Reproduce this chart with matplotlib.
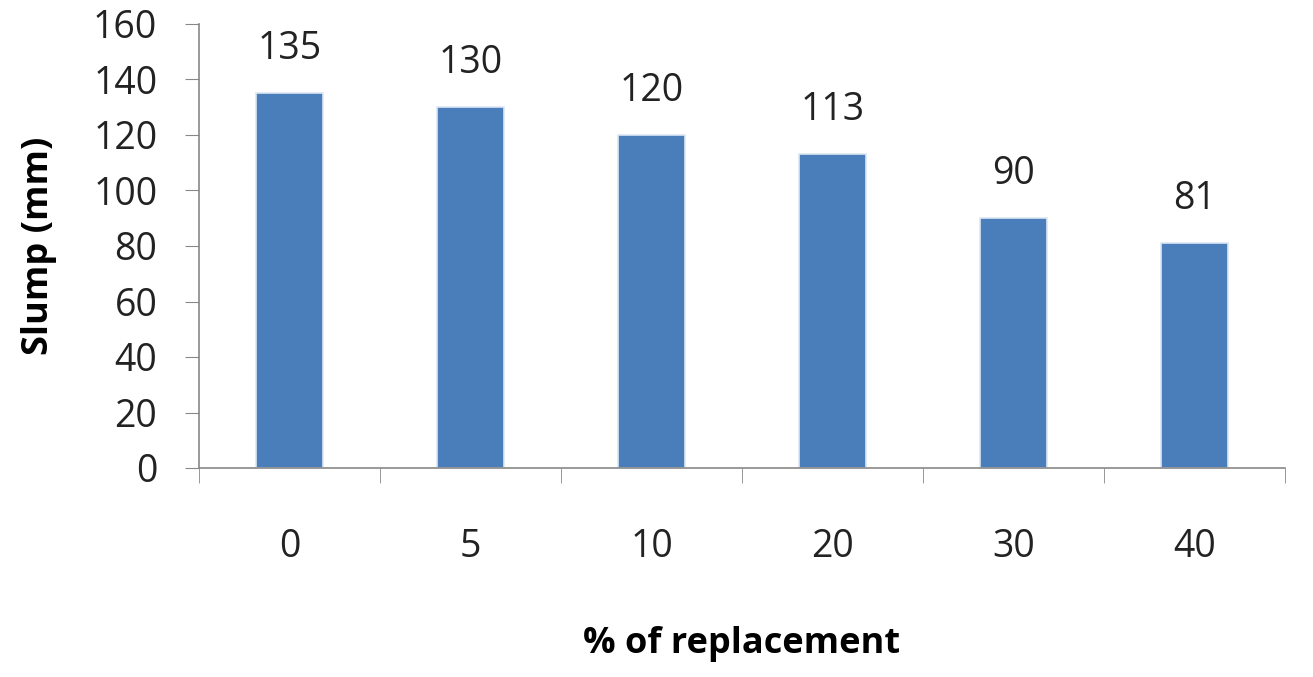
import matplotlib.pyplot as plt
import numpy as np

replacement = ['0', '5', '10', '20', '30', '40']
slump = [135, 130, 120, 113, 90, 81]
y_ticks = [0, 20, 40, 60, 80, 100, 120, 140, 160]

plt.rcParams['font.family'] = ['Open Sans', 'DejaVu Sans']

fig = plt.figure(figsize=(13.13, 6.77), dpi=100)
ax = fig.add_axes([199 / 1313, 1 - 468 / 677, (1285 - 199) / 1313, (468 - 24) / 677])

x = np.arange(len(replacement))
bars = ax.bar(x, slump, width=0.375, color='#4a7ebb', edgecolor='#dbe6f4', linewidth=1.2)

# value labels above each bar
for b, v in zip(bars, slump):
    ax.annotate(str(v), (b.get_x() + b.get_width() / 2, v), xytext=(0, 32),
                textcoords='offset points', ha='center', va='center',
                fontsize=27, color='#222222')

ax.set_xlim(-0.5, len(replacement) - 0.5)
ax.set_ylim(0, 160)
ax.set_yticks(y_ticks)
ax.set_yticklabels([str(t) for t in y_ticks], fontsize=27, color='#222222')

ax.set_xticks(x)
ax.set_xticklabels(replacement, fontsize=27, color='#222222')
ax.tick_params(axis='x', length=0, pad=43)
ax.set_xticks(np.arange(-0.5, len(replacement)), minor=True)
ax.tick_params(axis='x', which='minor', length=11, color='#888888', direction='out')
ax.tick_params(axis='y', length=10, color='#888888', direction='out', pad=20)

for s in ['top', 'right']:
    ax.spines[s].set_visible(False)
ax.spines['left'].set_color('#888888')
ax.spines['bottom'].set_color('#888888')
ax.spines['left'].set_linewidth(1.2)
ax.spines['bottom'].set_linewidth(1.2)

ax.set_ylabel('Slump (mm)', fontsize=26, fontweight='bold')
ax.yaxis.set_label_coords(-0.131, 0.5)
ax.set_xlabel('% of replacement', fontsize=26, fontweight='bold')
ax.xaxis.set_label_coords(0.5, -0.355)

fig.savefig('out.png', dpi=100)
